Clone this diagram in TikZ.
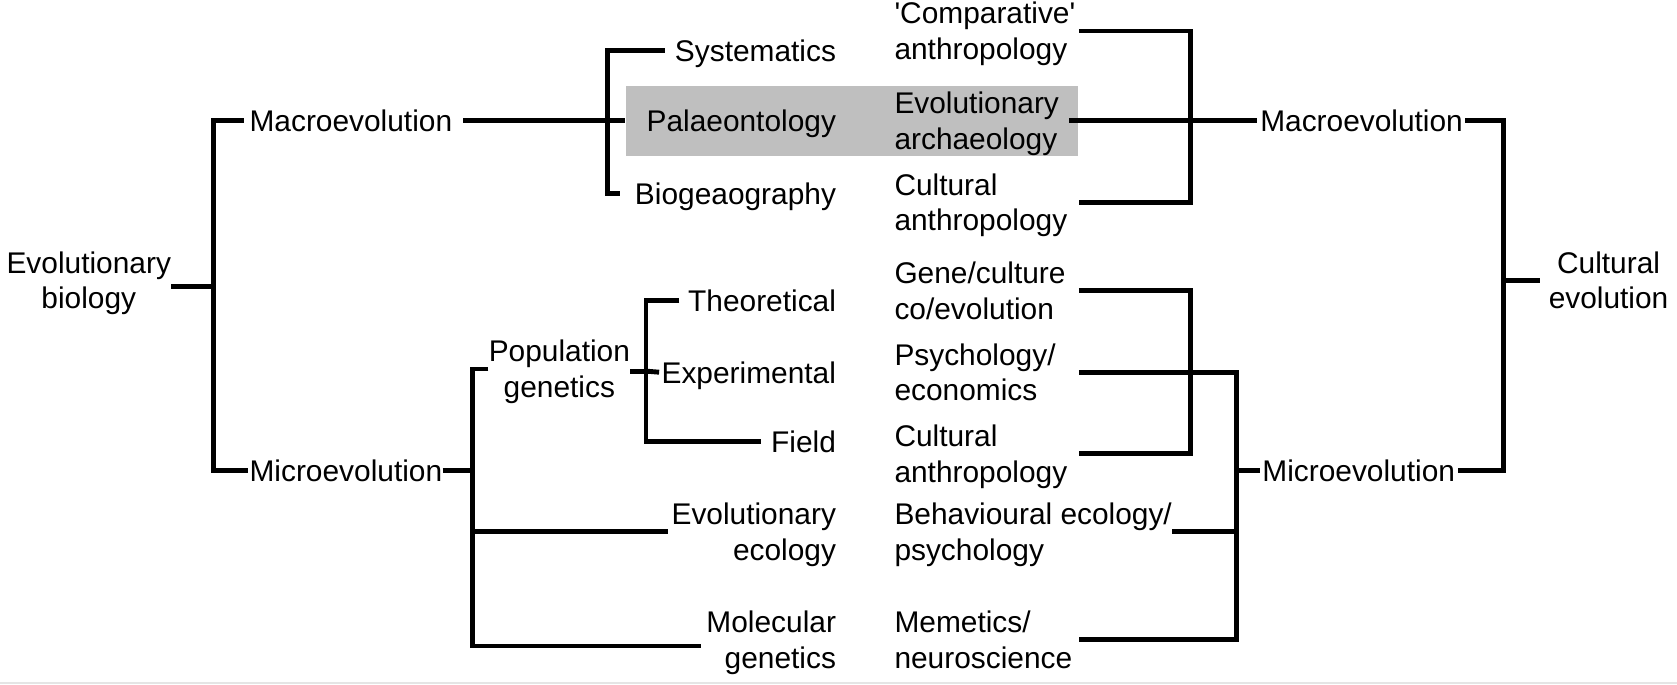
\documentclass[tikz,border=0pt]{standalone}
\usepackage{fontspec}
\setmainfont{Liberation Sans}
\usepackage{tikz}
\usetikzlibrary{positioning}

\begin{document}
\begin{tikzpicture}[x=.02cm, y=-.02cm,
	lbl/.style={font=\fontsize{15.9}{19.1}\selectfont, inner sep=0pt, text depth=0pt},
	lcol/.style={lbl, anchor=east, align=right},
	rcol/.style={lbl, anchor=west, align=left, text width=3.44cm, text depth=19.1pt},
	branch/.style={line width=2.6pt}]
	  \useasboundingbox (0, 0) rectangle (1568, 640);
	  \draw[gray!20, line width=1pt](0, 638.5) -- (1568, 638.5);
	  \node[fill=gray!50, minimum width=8.46cm, minimum height=1.32cm, inner sep=0pt] (hl) at (796.5, 113) {};
	  \node[lbl, align=center] (evob) at (83, 262) {Evolutionary\\biology};
	  \node[lbl, anchor=west] (macl) at (233, 113) {Macroevolution};
	  \node[lbl, anchor=west] (micl) at (233, 440) {Microevolution};
	  \node[lbl, align=center] (popg) at (523, 345) {Population\\genetics};
	  \node[lcol] (sys) at (782, 47) {Systematics};
	  \node[lcol] (pal) at (782, 113) {Palaeontology};
	  \node[lcol] (bio) at (782, 181) {Biogeaography};
	  \node[lcol] (theo) at (782, 281) {Theoretical};
	  \node[lcol] (exper) at (782, 348) {Experimental};
	  \node[lcol] (field) at (782, 413) {Field};
	  \node[lcol] (evoeco) at (782, 497) {Evolutionary\\ecology};
	  \node[lcol] (molgen) at (782, 598) {Molecular\\genetics};
	  \node[rcol] (comp) at (836, 29) {\textquotesingle Comparative\textquotesingle\\anthropology};
	  \node[rcol] (earch) at (836, 113) {Evolutionary\\archaeology};
	  \node[rcol] (canth) at (836, 189) {Cultural\\anthropology};
	  \node[rcol] (gene) at (836, 272) {Gene/culture\\co/evolution};
	  \node[rcol] (psych) at (836, 348) {Psychology/\\economics};
	  \node[rcol] (cultanth) at (836, 424) {Cultural\\anthropology};
	  \node[lbl, anchor=west, align=left] (behav) at (836, 497) {Behavioural ecology/\\psychology};
	  \node[rcol] (memet) at (836, 598) {Memetics/\\neuroscience};
	  \node[lbl, anchor=west] (macr) at (1178, 113) {Macroevolution};
	  \node[lbl, anchor=west] (micr) at (1180, 440) {Microevolution};
	  \node[lbl, align=center] (culev) at (1504, 262) {Cultural\\evolution};
	  \coordinate (b0) at (200, 268);
	  \coordinate (b1) at (568, 113);
	  \coordinate (b2) at (1113, 113);
	  \coordinate (b3) at (1113, 348);
	  \coordinate (b4) at (1156, 440);
	  \coordinate (b5) at (1406, 262);
	  \coordinate (b6) at (442, 440);
	  \coordinate (b7) at (604, 347);
	  \draw[branch](evob.east |- b0) -- (b0);
	  \draw[branch]([xshift=-.1cm]macl.west) -| (b0) |- ([xshift=-.02cm]micl.west);
	  \draw[branch]([xshift=.2cm]macl.east) -- (b1);
	  \draw[branch]([xshift=-.18cm]sys.west) -| (b1) |- ([xshift=-.28cm]bio.west);
	  \draw[branch](b1) -- (hl.west);
	  \draw[branch](micl.east) -- (b6);
	  \draw[branch](popg.west) -| (b6) |- ([xshift=-.1cm, yshift=-.12cm]molgen.west);
	  \draw[branch](evoeco.west -| b6) -- ([xshift=-.06cm]evoeco.west);
	  \draw[branch](popg.east |- b7) -- (b7);
	  \draw[branch]([xshift=-.16cm]theo.west) -| (b7) |- ([xshift=-.18cm]field.west);
	  \draw[branch](b7) -- ([xshift=-.04cm]exper.west);
	  \draw[branch](comp.east) -| (b2) |- (canth.east);
	  \draw[branch]([xshift=-.18cm]earch.east) -- ([xshift=-.06cm]macr.west);
	  \draw[branch](gene.east) -| (b3) |- (cultanth.east);
	  \draw[branch](psych.east) -| (b4) |- (memet.east);
	  \draw[branch](b4) -- ([xshift=-.04cm]micr.west);
	  \draw[branch](behav.east) -- (behav.east -| b4);
	  \draw[branch]([xshift=.04cm]macr.east) -| (b5) |- ([xshift=.04cm]micr.east);
	  \draw[branch](b5) -- ([xshift=-.16cm]culev.west |- b5);
\end{tikzpicture}
\end{document}
